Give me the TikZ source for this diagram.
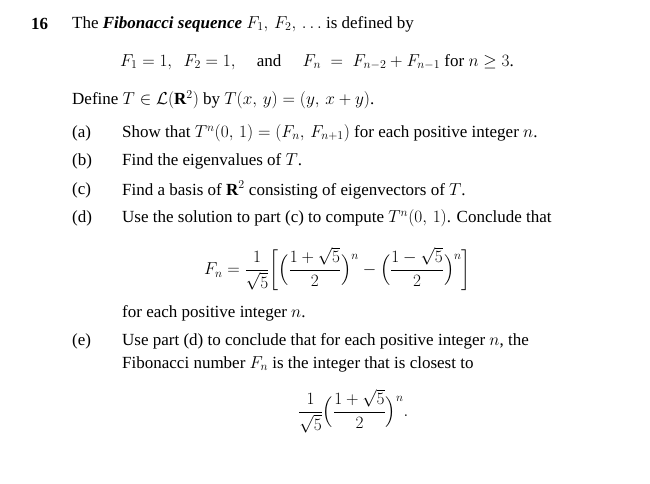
\documentclass[tikz,border=0pt]{standalone}
\usepackage{amsmath,amssymb}
\usepackage{fontspec}
\setmainfont{Liberation Serif}
\begin{document}
\begin{tikzpicture}[x=1pt,y=-1pt,every node/.style={inner sep=0pt,anchor=west,font=\fontsize{17}{20}\selectfont}]
\useasboundingbox (0,0) rectangle (650,484);
\node (num) at (31,24) {\textbf{16}};
\node (t1) at (72,24) {The \textbf{\textit{Fibonacci sequence}} $F_1,\, F_2,\, \ldots$ is defined by};
\node (t2) at (120,62) {$F_1=1,\ \ F_2=1,\quad$ and $\quad F_n\;=\;F_{n-2}+F_{n-1}$ for $n\ge 3$.};
\node (t3) at (72,100) {Define $T\in\mathcal{L}(\mathbf{R}^2)$ by $T(x,\,y)=(y,\,x+y)$.};
\node (a) at (72,133) {(a)};
\node (at) at (122,133) {Show that $T^n(0,\,1)=(F_n,\,F_{n+1})$ for each positive integer $n$.};
\node (b) at (72,161) {(b)};
\node (bt) at (122,161) {Find the eigenvalues of $T$.};
\node (c) at (72,190) {(c)};
\node (ct) at (122,190) {Find a basis of $\mathbf{R}^2$ consisting of eigenvectors of $T$.};
\node (d) at (72,218) {(d)};
\node (dt) at (122,218) {Use the solution to part (c) to compute $T^n(0,\,1)$. Conclude that};
\node (f1) at (204,269) {$\displaystyle F_n=\frac{1}{\sqrt5}\biggl[\Bigl(\frac{1+\sqrt5}{2}\Bigr)^{n}-\Bigl(\frac{1-\sqrt5}{2}\Bigr)^{n}\biggr]$};
\node (dt2) at (122,313) {for each positive integer $n$.};
\node (e) at (72,341) {(e)};
\node (et) at (122,341) {Use part (d) to conclude that for each positive integer $n$, the};
\node (et2) at (122,364) {Fibonacci number $F_n$ is the integer that is closest to};
\node (f2) at (298,411) {$\displaystyle \frac{1}{\sqrt5}\Bigl(\frac{1+\sqrt5}{2}\Bigr)^{n}.$};
\end{tikzpicture}
\end{document}
